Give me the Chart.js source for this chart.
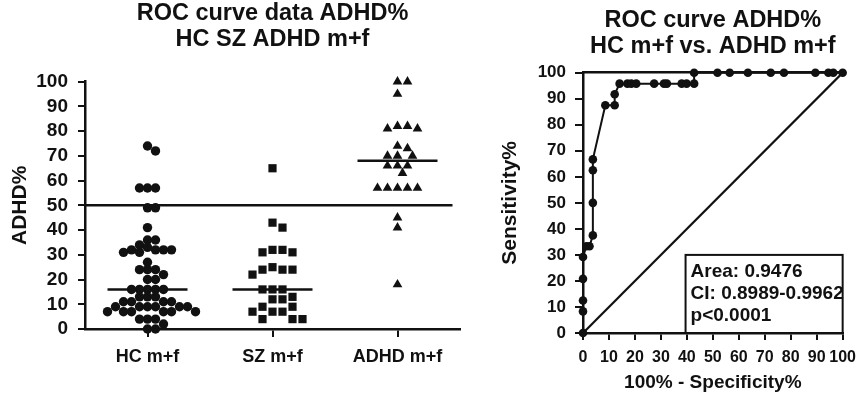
<!DOCTYPE html>
<html>
<head>
<meta charset="utf-8">
<script src="https://cdn.jsdelivr.net/npm/chart.js@4.4.1/dist/chart.umd.min.js"></script>
<style>
  html, body { margin: 0; padding: 0; background: #fff; }
  #wrap { position: relative; width: 864px; height: 405px; }
  #left { position: absolute; left: 0; top: 0; }
  #right { position: absolute; left: 470px; top: 0; }
</style>
</head>
<body>
<div id="wrap">
  <canvas id="left" width="470" height="405" style="width:470px;height:405px"></canvas>
  <canvas id="right" width="394" height="405" style="width:394px;height:405px"></canvas>
</div>
<script>
// ---- data ----
const groups = ["HC m+f", "SZ m+f", "ADHD m+f"];
const hcValues = [74, 72, 57, 57, 57, 49, 49, 41, 36, 34, 32, 31, 32, 32, 31, 32, 33, 36,
  27, 24, 24, 24, 22, 20, 20, 16, 16, 16, 16, 16, 13, 13, 13, 11, 11, 11, 11,
  9, 9, 9, 9, 9, 9, 7, 7, 7, 7, 7, 7, 4, 4, 4, 2, 0, 0];
const szValues = [65, 43, 41, 32, 31, 31, 32, 24, 24, 22, 24, 25, 16, 16, 16,
  12, 9, 9, 12, 13, 7, 7, 7, 4, 4, 4];
const adhdValues = [100, 100, 95, 82, 81, 81, 82, 74, 73, 70, 70, 70, 66, 66, 66, 63,
  57, 57, 57, 57, 57, 45, 41, 18];
const cutoff = 50;
const pctTicks = [0, 10, 20, 30, 40, 50, 60, 70, 80, 90, 100];

// ROC: 100% - specificity vs sensitivity
const rocX = [0, 0, 0, 0, 0, 1.3, 2.5, 3.8, 3.8, 3.8, 3.8, 8.6, 12.2, 12.2, 14.1, 17.1, 18.6,
  20.5, 27.4, 31.2, 32.3, 38, 39.9, 42.8, 42.8, 51.8, 56.5, 63.5, 72.3, 77.4, 89.5, 94.5, 96.4, 100];
const rocY = [0, 8.3, 12.5, 20.8, 29.2, 33.3, 33.3, 37.5, 50, 62.5, 66.7, 87.5, 87.5, 91.7, 95.8,
  95.8, 95.8, 95.8, 95.8, 95.8, 95.8, 95.8, 95.8, 95.8, 100, 100, 100, 100, 100, 100, 100, 100, 100, 100];
const rocStats = ["Area: 0.9476", "CI: 0.8989-0.9962", "p<0.0001"];

const ink = "#111";
Chart.defaults.font.family = '"Liberation Sans", Arial, sans-serif';
Chart.defaults.font.weight = "bold";
Chart.defaults.color = ink;
Chart.defaults.animation = false;

function median(a) {
  const s = [...a].sort((p, q) => p - q);
  const m = s.length >> 1;
  return s.length % 2 ? s[m] : (s[m - 1] + s[m]) / 2;
}

// ---- left: dot plot ----
const seriesList = [hcValues, szValues, adhdValues];
const shapes = ["circle", "rect", "triangle"];
const radii = [4.7, 5.8, 5.6];

const leftDatasets = seriesList.map((vals, g) => ({
  type: "scatter",
  data: vals.map(v => ({ x: g, y: v })),
  pointStyle: shapes[g],
  pointRadius: radii[g],
  backgroundColor: ink,
  borderColor: ink,
  borderWidth: 0,
  clip: false
}));
seriesList.forEach((vals, g) => {
  const m = median(vals);
  leftDatasets.push({
    type: "line",
    data: [{ x: g - 0.32, y: m }, { x: g + 0.32, y: m }],
    borderColor: ink, borderWidth: 2.5, pointRadius: 0
  });
});
leftDatasets.push({
  type: "line",
  data: [{ x: -0.5, y: cutoff }, { x: 2.44, y: cutoff }],
  borderColor: ink, borderWidth: 2.5, pointRadius: 0
});

const left = new Chart(document.getElementById("left"), {
  type: "scatter",
  data: { datasets: leftDatasets },
  options: {
    responsive: false,
    layout: { padding: { left: 0, right: 10, top: 0, bottom: 0 } },
    plugins: {
      legend: { display: false },
      tooltip: { enabled: false },
      title: {
        display: true,
        fullSize: false,
        text: ["ROC curve data ADHD%", "HC SZ ADHD m+f"],
        font: { size: 23.5, lineHeight: 1.1 },
        color: ink,
        padding: { top: 1, bottom: 29 }
      }
    },
    scales: {
      x: {
        type: "linear", min: -0.5, max: 2.5,
        afterBuildTicks: s => { s.ticks = groups.map((_, i) => ({ value: i })); },
        ticks: { callback: v => groups[v], font: { size: 18 }, padding: 9, maxRotation: 0, autoSkip: false },
        grid: { drawOnChartArea: false, tickLength: 8, color: ink, lineWidth: 2 },
        border: { color: ink, width: 2.5 },
        afterFit: s => { s.height = 76; }
      },
      y: {
        min: 0, max: 100,
        afterBuildTicks: s => { s.ticks = pctTicks.map(v => ({ value: v })); },
        ticks: { font: { size: 19 }, padding: 10, autoSkip: false },
        grid: { drawOnChartArea: false, tickLength: 7, color: ink, lineWidth: 2 },
        border: { color: ink, width: 2.5 },
        title: { display: true, text: "ADHD%", font: { size: 21 }, padding: { top: 8, bottom: 0 } },
        afterFit: s => { s.width = 85; }
      }
    }
  }
});

// spread the dots sideways so they don't pile up (beeswarm)
function swarm(chart) {
  const xs = chart.scales.x, ys = chart.scales.y;
  const unit = xs.getPixelForValue(1) - xs.getPixelForValue(0);
  seriesList.forEach((vals, g) => {
    const ds = chart.data.datasets[g];
    const d = radii[g] * (g === 0 ? 1.47 : 1.55);
    const step = g === 0 ? 4 : 5;
    const order = vals.map((v, i) => i).sort((a, b) => vals[b] - vals[a]);
    const placed = [];
    order.forEach(i => {
      const py = ys.getPixelForValue(vals[i]);
      let off = 0;
      for (let k = 0; k < 80; k++) {
        off = k === 0 ? 0 : (k % 2 ? 1 : -1) * Math.ceil(k / 2) * step;
        if (placed.every(q => (q.off - off) ** 2 + (q.py - py) ** 2 >= d * d)) break;
      }
      placed.push({ off, py });
      ds.data[i].x = g + off / unit;
    });
  });
  chart.update("none");
}
swarm(left);

// ---- right: ROC curve ----
const statsBox = {
  id: "statsBox",
  afterDatasetsDraw(chart) {
    const { ctx, scales: { x, y } } = chart;
    const l = x.getPixelForValue(39.5), r = x.getPixelForValue(100);
    const t = y.getPixelForValue(30), b = y.getPixelForValue(0);
    ctx.save();
    ctx.fillStyle = "#fff";
    ctx.fillRect(l, t, r - l, b - t);
    ctx.strokeStyle = ink;
    ctx.lineWidth = 2;
    ctx.strokeRect(l, t, r - l, b - t);
    ctx.fillStyle = ink;
    ctx.font = 'bold 19px "Liberation Sans", Arial, sans-serif';
    ctx.textBaseline = "middle";
    rocStats.forEach((line, i) => ctx.fillText(line, l + 5, t + 17 + i * 22));
    ctx.restore();
  }
};

new Chart(document.getElementById("right"), {
  type: "scatter",
  data: {
    datasets: [
      {
        data: rocX.map((x, i) => ({ x, y: rocY[i] })),
        showLine: true,
        borderColor: ink, backgroundColor: ink,
        borderWidth: 2, pointRadius: 4.3, pointBorderWidth: 0,
        clip: false
      },
      {
        type: "line",
        data: [{ x: 0, y: 0 }, { x: 100, y: 100 }],
        borderColor: ink, borderWidth: 2.2, pointRadius: 0
      }
    ]
  },
  options: {
    responsive: false,
    layout: { padding: { left: 0, right: 18, top: 0, bottom: 0 } },
    plugins: {
      legend: { display: false },
      tooltip: { enabled: false },
      title: {
        display: true,
        fullSize: false,
        text: ["ROC curve ADHD%", "HC m+f vs. ADHD m+f"],
        font: { size: 23.5, lineHeight: 1.1 },
        color: ink,
        padding: { top: 8, bottom: 13 }
      }
    },
    scales: {
      x: {
        type: "linear", min: 0, max: 100,
        afterBuildTicks: s => { s.ticks = pctTicks.map(v => ({ value: v })); },
        ticks: { font: { size: 16 }, padding: 8, maxRotation: 0, autoSkip: false },
        grid: { drawOnChartArea: false, tickLength: 7, color: ink, lineWidth: 2 },
        border: { color: ink, width: 2.5 },
        title: { display: true, text: "100% - Specificity%", font: { size: 19 }, padding: { top: 0, bottom: 11 } },
        afterFit: s => { s.height = 72; }
      },
      xTop: {
        type: "linear", position: "top", min: 0, max: 100,
        ticks: { display: false },
        grid: { display: false, drawTicks: false },
        border: { display: true, color: ink, width: 2.5 },
        afterFit: s => { s.height = 0; }
      },
      y: {
        min: 0, max: 100,
        afterBuildTicks: s => { s.ticks = pctTicks.map(v => ({ value: v })); },
        ticks: { font: { size: 17 }, padding: 9, autoSkip: false },
        grid: { drawOnChartArea: false, tickLength: 8, color: ink, lineWidth: 2 },
        border: { color: ink, width: 2.5 },
        title: { display: true, text: "Sensitivity%", font: { size: 21 }, padding: { top: 28, bottom: 0 } },
        afterFit: s => { s.width = 113; }
      }
    }
  },
  plugins: [statsBox]
});
</script>
</body>
</html>
